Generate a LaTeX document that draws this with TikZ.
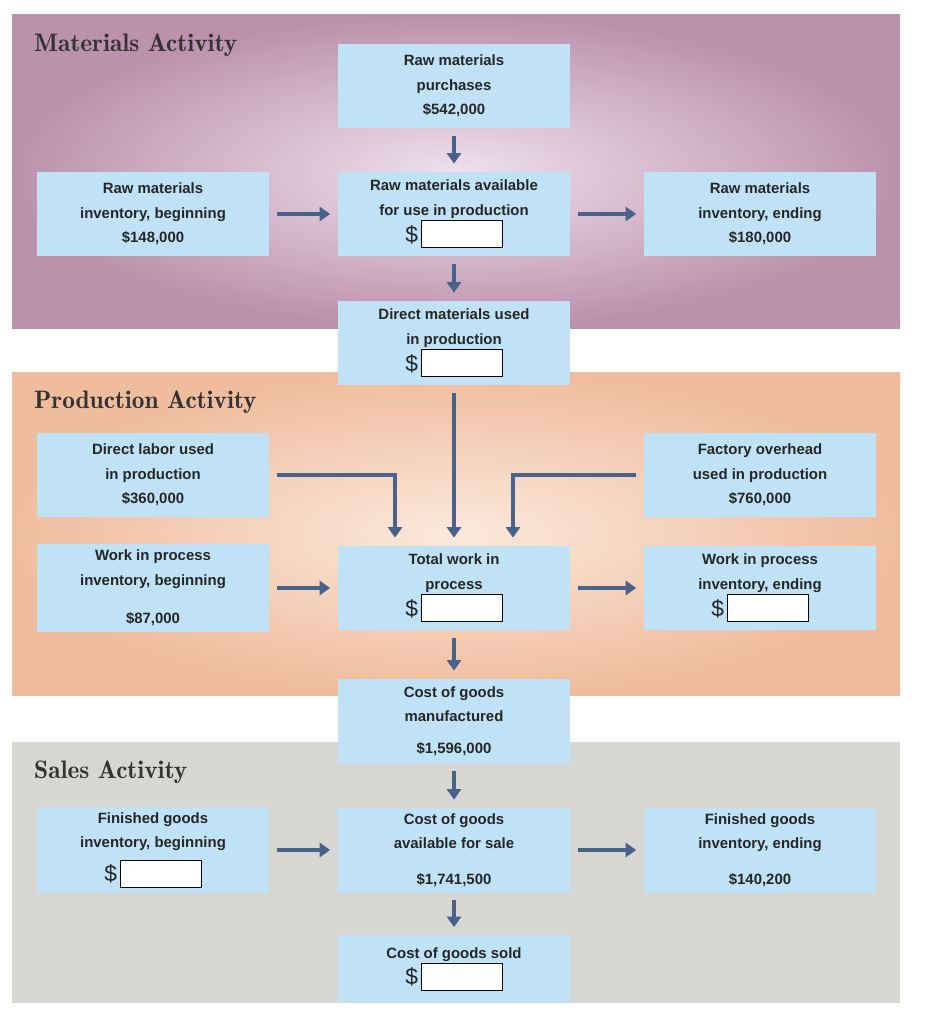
\documentclass[tikz,border=0pt]{standalone}
\usepackage{fontspec}
\setmainfont{Liberation Sans}
\usetikzlibrary{arrows.meta,positioning}
\definecolor{boxblue}{RGB}{192,226,246}
\definecolor{arrowblue}{RGB}{72,98,138}
\newcommand{\ansbox}{{\mdseries\fontsize{13}{13}\selectfont\$}\,\fcolorbox{black}{white}{\rule{0pt}{9pt}\hspace{1.4cm}}}

\begin{document}
\begin{tikzpicture}[x=0.02cm,y=-0.02cm,
    box/.style={rectangle, fill=boxblue, minimum width=4.64cm, minimum height=1.7cm, align=center,
        font=\fontsize{8.5}{14}\selectfont\bfseries, text=black!85},
    title/.style={anchor=west, font=\fontfamily{lmr}\selectfont\Large\bfseries, text=black!80},
    arrow/.style={-{Triangle[length=6pt,width=8pt]}, line width=2.6pt, draw=arrowblue, shorten <=0.15cm, shorten >=0.15cm}
]
    \useasboundingbox (0,0) rectangle (942,1024);
    % bands
    \shade[inner color={rgb,255:red,238;green,224;blue,236}, outer color={rgb,255:red,188;green,145;blue,172}] (12,15) rectangle (900,328);
    \shade[inner color={rgb,255:red,251;green,232;blue,218}, outer color={rgb,255:red,240;green,188;blue,158}] (12,372) rectangle (900,695);
    \fill[color={rgb,255:red,216;green,214;blue,209}] (12,742) rectangle (900,1003);
    \node[title] (tmat) at (28,45) {Materials Activity};
    \node[title] (tprod) at (28,402) {Production Activity};
    \node[title] (tsal) at (28,772) {Sales Activity};

    % materials
    \node[box] (rmp) at (454,86) {Raw materials\\purchases\\\$542,000};
    \node[box] (rmb) at (153,214) {Raw materials\\inventory, beginning\\\$148,000};
    \node[box] (rma) at (454,214) {Raw materials available\\for use in production\\\ansbox};
    \node[box] (rme) at (760,214) {Raw materials\\inventory, ending\\\$180,000};
    \node[box] (dmu) at (454,343) {Direct materials used\\in production\\\ansbox};

    % production
    \node[box] (dlu) at (153,475) {Direct labor used\\in production\\\$360,000};
    \node[box] (foh) at (760,475) {Factory overhead\\used in production\\\$760,000};
    \node[box] (wipb) at (153,588) {Work in process\\inventory, beginning\\[8pt]\$87,000};
    \node[box] (twip) at (454,588) {Total work in\\process\\\ansbox};
    \node[box] (wipe) at (760,588) {Work in process\\inventory, ending\\\ansbox};
    \node[box] (cogm) at (454,721) {Cost of goods\\manufactured\\[4pt]\$1,596,000};

    % sales
    \node[box] (fgb) at (153,850) {Finished goods\\inventory, beginning\\[4pt]\ansbox};
    \node[box] (coga) at (454,850) {Cost of goods\\available for sale\\[6pt]\$1,741,500};
    \node[box] (fge) at (760,850) {Finished goods\\inventory, ending\\[6pt]\$140,200};
    \node[box, minimum height=1.36cm] (cogs) at (454,969) {Cost of goods sold\\\ansbox};

    \draw[arrow] (rmp) -- (rma);
    \draw[arrow] (rmb) -- (rma);
    \draw[arrow] (rma) -- (rme);
    \draw[arrow] (rma) -- (dmu);
    \draw[arrow] (dmu) -- (twip);
    \draw[arrow] (dlu.east) -| ([xshift=-1.18cm]twip.north);
    \draw[arrow] (foh.west) -| ([xshift=1.18cm]twip.north);
    \draw[arrow] (wipb) -- (twip);
    \draw[arrow] (twip) -- (wipe);
    \draw[arrow] (twip) -- (cogm);
    \draw[arrow] (cogm) -- (coga);
    \draw[arrow] (fgb) -- (coga);
    \draw[arrow] (coga) -- (fge);
    \draw[arrow] (coga) -- (cogs);
\end{tikzpicture}
\end{document}
